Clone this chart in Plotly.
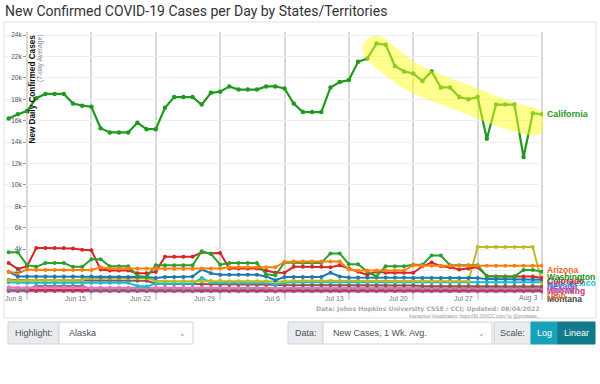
import plotly.graph_objects as go
import pandas as pd

# ---------------- data ----------------
dates = pd.date_range("2022-06-06", "2022-08-03", freq="D")

california = [16200, 16600, 16900, 18100, 18500, 18500, 18500,
              17600, 17400, 17300, 15300, 14900, 14900, 14900,
              15800, 15200, 15200, 17200, 18200, 18200, 18200,
              17500, 18600, 18700, 19200, 18900, 18900, 18900,
              19200, 19200, 19000, 17600, 16800, 16800, 16800,
              19100, 19600, 19800, 21500, 21800, 23200, 23100,
              21100, 20600, 20400, 19700, 20600, 19100, 19100,
              18200, 18000, 18200, 14300, 17500, 17500, 17500,
              12600, 16700, 16600]
arizona = [1900, 1750, 2100, 2050, 2050, 2050, 2050,
           2050, 2050, 2050, 2300, 2200, 2200, 2200,
           2200, 2200, 2200, 2150, 2150, 2150, 2150,
           2200, 2200, 2200, 2300, 2300, 2300, 2300,
           2300, 2300, 2800, 2850, 2850, 2850, 2850,
           2850, 2850, 2100, 2000, 2000, 2000, 2000,
           2000, 2000, 2500, 2450, 2450, 2450, 2450,
           2450, 2450, 2450, 2450, 2450, 2450, 2450,
           2450, 2450, 2450]
washington = [3700, 3700, 2500, 2350, 2700, 2700, 2700,
              2350, 2350, 3050, 3050, 2400, 2400, 2400,
              1500, 1400, 2500, 2500, 2500, 2500, 2500,
              3800, 3550, 2550, 2700, 2700, 2700, 2700,
              1650, 1550, 2750, 2700, 2700, 2700, 2700,
              3600, 3600, 2600, 2600, 1900, 1450, 2400,
              2400, 2400, 2550, 2550, 3400, 3400, 2500,
              2500, 2500, 2500, 1450, 1450, 1450, 1450,
              2050, 2050, 1900]
colorado = [2700, 2150, 2400, 4100, 4100, 4100, 4100,
            4050, 3950, 3900, 2100, 2000, 2000, 2000,
            1750, 1750, 1900, 3300, 3300, 3300, 3300,
            3700, 3600, 3650, 2200, 2200, 2200, 2200,
            2000, 1800, 1800, 2350, 2350, 2350, 2350,
            2300, 2500, 2200, 1900, 1600, 1900, 1800,
            1800, 1800, 1800, 2400, 2750, 2400, 2300,
            2100, 2200, 2300, 1500, 1450, 1450, 1450,
            1450, 1450, 1300]
nevada = [1900, 1450, 1450, 1450, 1450, 1450, 1450,
          1450, 1450, 1450, 1400, 1400, 1400, 1400,
          1400, 1400, 1300, 1400, 1400, 1400, 1450,
          2100, 1750, 1600, 1600, 1600, 1600, 1600,
          1450, 1100, 1400, 1400, 1400, 1400, 1400,
          1800, 1450, 1350, 1350, 1350, 1350, 1350,
          1350, 1350, 1300, 1300, 1300, 1300, 1300,
          1300, 1300, 1300, 1200, 1200, 1200, 1200,
          1200, 1200, 1150]
oregon = [1100, 1050, 1100, 1100, 1100, 1100, 1100,
          1100, 1150, 1300, 1300, 1300, 1300, 1300,
          1300, 1300, 1050, 1000, 1000, 1000, 1000,
          1000, 1050, 1050, 1000, 1000, 1000, 1000,
          1000, 950, 1000, 1050, 1050, 1050, 1050,
          1050, 1050, 1050, 1050, 1000, 1000, 1000,
          1000, 1000, 1000, 1000, 1000, 1000, 1000,
          1000, 1000, 4200, 4200, 4200, 4200, 4200,
          4200, 4200, 850]
new_mexico = [900, 850, 850, 850, 850, 850, 850,
              850, 850, 850, 850, 850, 850, 850,
              550, 500, 800, 800, 800, 800, 800,
              1300, 900, 850, 850, 850, 850, 850,
              850, 700, 850, 900, 900, 900, 900,
              950, 950, 900, 900, 900, 900, 900,
              900, 900, 900, 900, 900, 900, 900,
              900, 900, 900, 900, 900, 900, 900,
              950, 950, 900]
utah = [1150, 1100, 1100, 1100, 1100, 1100, 1100,
        1100, 1100, 1100, 1100, 1100, 1100, 1050,
        1050, 1050, 800, 750, 750, 750, 750,
        750, 750, 700, 700, 700, 700, 700,
        700, 650, 650, 650, 650, 650, 650,
        650, 600, 600, 600, 600, 600, 600,
        600, 600, 600, 550, 550, 550, 550,
        550, 550, 550, 550, 550, 550, 550,
        550, 550, 500]
idaho = [450, 400, 400, 400, 400, 400, 400,
         400, 400, 400, 400, 400, 400, 400,
         400, 400, 400, 400, 400, 400, 400,
         450, 400, 400, 400, 400, 400, 400,
         400, 350, 400, 400, 400, 400, 400,
         400, 400, 400, 400, 400, 400, 400,
         400, 400, 400, 400, 400, 400, 400,
         400, 400, 400, 400, 400, 400, 400,
         400, 400, 400]
montana = [200, 250, 250, 550, 550, 550, 550,
           550, 550, 250, 250, 250, 250, 250,
           250, 250, 250, 250, 250, 250, 250,
           300, 300, 300, 300, 300, 300, 300,
           300, 250, 300, 300, 300, 300, 300,
           300, 300, 300, 300, 300, 300, 300,
           300, 300, 300, 300, 300, 300, 300,
           300, 300, 300, 300, 300, 300, 300,
           300, 300, 300]
wyoming = [200, 180, 180, 180, 180, 180, 180,
           180, 180, 180, 180, 180, 180, 180,
           180, 180, 180, 180, 180, 180, 180,
           180, 180, 180, 180, 180, 180, 180,
           180, 150, 180, 180, 180, 180, 180,
           180, 180, 180, 180, 180, 180, 180,
           180, 180, 180, 180, 180, 180, 180,
           180, 180, 180, 180, 180, 180, 180,
           180, 180, 150]
hawaii = [120, 110, 110, 110, 110, 110, 110,
          110, 110, 110, 110, 110, 110, 110,
          110, 110, 110, 110, 110, 110, 110,
          110, 110, 110, 110, 110, 110, 110,
          110, 100, 110, 110, 110, 110, 110,
          110, 110, 110, 110, 110, 110, 110,
          110, 110, 110, 110, 110, 110, 110,
          110, 110, 110, 110, 110, 110, 110,
          110, 110, 100]
alaska = [60, 60, 60, 60, 60, 60, 60,
          60, 60, 60, 60, 60, 60, 60,
          60, 60, 60, 60, 60, 60, 60,
          60, 60, 60, 60, 60, 60, 60,
          60, 50, 60, 60, 60, 60, 60,
          60, 60, 60, 60, 60, 60, 60,
          60, 60, 60, 60, 60, 60, 60,
          60, 60, 60, 60, 60, 60, 60,
          60, 60, 50]

# highlighter stroke drawn over California's late-July trend
band_dates = ["2022-07-16", "2022-07-18", "2022-07-20", "2022-07-23",
              "2022-07-27", "2022-07-30", "2022-08-02"]
band_values = [22600, 21200, 20000, 18900, 17600, 16600, 15900]

tick_dates = ["2022-06-08", "2022-06-15", "2022-06-22", "2022-06-29", "2022-07-06",
              "2022-07-13", "2022-07-20", "2022-07-27", "2022-08-03"]
tick_labels = ["Jun 8", "Jun 15", "Jun 22", "Jun 29", "Jul 6",
               "Jul 13", "Jul 20", "Jul 27", "Aug 3"]
y_ticks = [2000, 4000, 6000, 8000, 10000, 12000, 14000, 16000, 18000, 20000, 22000, 24000]
y_tick_labels = ["2k", "4k", "6k", "8k", "10k", "12k", "14k", "16k", "18k", "20k", "22k", "24k"]

# name, values, line color, label color, label yshift (None -> no label)
series = [
    ("Alaska", alaska, "#a55fc9", "#a55fc9", None),
    ("Hawaii", hawaii, "#9467bd", "#9467bd", 1),
    ("Wyoming", wyoming, "#d62728", "#d0306a", -1),
    ("Montana", montana, "#7f7f7f", "#444444", -10),
    ("Idaho", idaho, "#e377c2", "#e377c2", -2),
    ("Utah", utah, "#8c564b", "#e0722a", -9),
    ("New Mexico", new_mexico, "#17becf", "#17becf", -1),
    ("Oregon", oregon, "#bcbd22", "#bcbd22", None),
    ("Nevada", nevada, "#1f77b4", "#6a5acd", -6),
    ("Colorado", colorado, "#d62728", "#d62728", -3),
    ("Washington", washington, "#2ca02c", "#1f8f1f", -5),
    ("Arizona", arizona, "#ff7f0e", "#f0601a", -4),
]

# ---------------- geometry helpers (pixel -> paper) ----------------
W, H = 600, 384
PL, PR, PT, PB = 5, 543, 32, 300


def fx(p):
    return (p - PL) / (PR - PL)


def fy(p):
    return (PB - p) / (PB - PT)


fig = go.Figure()

for name, vals, col, lcol, dy in series:
    fig.add_trace(go.Scatter(x=dates, y=vals, mode="lines+markers", name=name,
                             line=dict(color=col, width=2),
                             marker=dict(color=col, size=4),
                             hoverinfo="x+y+name"))

fig.add_trace(go.Scatter(x=dates, y=california, mode="lines+markers", name="California",
                         line=dict(color="#1f9a1f", width=2.2),
                         marker=dict(color="#1f9a1f", size=4.5)))

# highlighter
fig.add_trace(go.Scatter(x=band_dates, y=band_values, mode="lines+markers",
                         line=dict(color="#ffff20", width=28, shape="spline"),
                         marker=dict(color="#ffff20", size=28),
                         opacity=0.5, hoverinfo="skip", showlegend=False))

annotations = []
# end labels
annotations.append(dict(x=dates[-1], y=california[-1], xref="x", yref="y", text="<b>California</b>",
                        showarrow=False, xanchor="left", xshift=3,
                        font=dict(family="Liberation Sans, Arial", size=8.8, color="#1f9a1f")))
for name, vals, col, lcol, dy in series:
    if dy is None:
        continue
    annotations.append(dict(x=dates[-1], y=vals[-1], xref="x", yref="y", text="<b>%s</b>" % name,
                            showarrow=False, xanchor="left", xshift=3, yshift=dy,
                            font=dict(family="Liberation Sans, Arial", size=8.5, color=lcol)))

# x tick labels: right aligned just left of the week gridline, inside plot bottom
for d, t in zip(tick_dates, tick_labels):
    annotations.append(dict(x=d, y=fy(298), xref="x", yref="paper", text=t, showarrow=False,
                            xanchor="right", yanchor="middle", xshift=-3,
                            font=dict(family="Liberation Sans, Arial", size=7, color="#777")))

# y axis title
annotations.append(dict(x=fx(32), y=fy(33), xref="paper", yref="paper", text="<b>New Daily Confirmed Cases</b>",
                        textangle=-90, showarrow=False, xanchor="center", yanchor="top",
                        font=dict(family="Liberation Sans, Arial", size=8.2, color="#111")))
annotations.append(dict(x=fx(40.5), y=fy(33), xref="paper", yref="paper", text="(7-day Average)",
                        textangle=-90, showarrow=False, xanchor="center", yanchor="top",
                        font=dict(family="Liberation Sans, Arial", size=6.7, color="#888")))

# source
annotations.append(dict(x=fx(542), y=fy(309), xref="paper", yref="paper",
                        text="<b>Data: Johns Hopkins University CSSE / CCI; Updated: 08/04/2022</b>",
                        showarrow=False, xanchor="right", yanchor="middle",
                        font=dict(family="DejaVu Sans", size=6.2, color="#aaa")))
annotations.append(dict(x=fx(542), y=fy(316), xref="paper", yref="paper",
                        text="Interactive Visualization: https://91-DIVOC.com/ by @profwade_",
                        showarrow=False, xanchor="right", yanchor="middle",
                        font=dict(family="Liberation Sans, Arial", size=4.6, color="#999")))

shapes = []
# outer frame
shapes.append(dict(type="rect", xref="paper", yref="paper", x0=fx(4), x1=fx(596), y0=fy(22), y1=fy(318),
                   line=dict(color="#e2e2e2", width=1), fillcolor="rgba(0,0,0,0)", layer="below"))
# end-of-data line
shapes.append(dict(type="line", xref="x", yref="paper", x0=dates[-1], x1=dates[-1], y0=0, y1=1,
                   line=dict(color="#a8a8a8", width=1.5), layer="below"))

# controls bar
ctrl_y0, ctrl_y1 = 322, 344
boxes = [
    (8, 59, "#e9ecef", "#ced4da", "Highlight:", "#495057", "center"),
    (59, 193, "#ffffff", "#ced4da", "Alaska", "#495057", "left"),
    (288, 323, "#e9ecef", "#ced4da", "Data:", "#495057", "center"),
    (323, 492, "#ffffff", "#ced4da", "New Cases, 1 Wk. Avg.", "#495057", "left"),
    (494, 531, "#e9ecef", "#ced4da", "Scale:", "#495057", "center"),
    (531, 558, "#17a2b8", "#17a2b8", "Log", "#ffffff", "center"),
    (558, 595, "#117a8b", "#10707f", "Linear", "#ffffff", "center"),
]
for x0, x1, fill, edge, txt, tcol, align in boxes:
    shapes.append(dict(type="rect", xref="paper", yref="paper", x0=fx(x0), x1=fx(x1),
                       y0=fy(ctrl_y1), y1=fy(ctrl_y0), line=dict(color=edge, width=1), fillcolor=fill))
    if align == "center":
        annotations.append(dict(x=fx((x0 + x1) / 2), y=fy((ctrl_y0 + ctrl_y1) / 2), xref="paper", yref="paper",
                                text=txt, showarrow=False, xanchor="center", yanchor="middle",
                                font=dict(family="Liberation Sans, Arial", size=9, color=tcol)))
    else:
        annotations.append(dict(x=fx(x0 + 8), y=fy((ctrl_y0 + ctrl_y1) / 2), xref="paper", yref="paper",
                                text=txt, showarrow=False, xanchor="left", yanchor="middle",
                                font=dict(family="Liberation Sans, Arial", size=9, color=tcol)))
        annotations.append(dict(x=fx(x1 - 5), y=fy((ctrl_y0 + ctrl_y1) / 2), xref="paper", yref="paper",
                                text="⌄", showarrow=False, xanchor="right", yanchor="middle",
                                font=dict(family="DejaVu Sans", size=8, color="#999")))

fig.update_layout(
    width=W, height=H,
    margin=dict(l=PL, r=W - PR, t=PT, b=H - PB, pad=0),
    paper_bgcolor="white", plot_bgcolor="white",
    showlegend=False,
    title=dict(text="New Confirmed COVID-19 Cases per Day by States/Territories",
               x=5 / W, xanchor="left", xref="container", y=1 - 11 / H, yanchor="middle",
               font=dict(family="Roboto", size=14, color="#333")),
    xaxis=dict(type="date", range=["2022-06-05 14:30", "2022-08-03 02:40"],
               tickvals=tick_dates, showticklabels=False, ticks="",
               showgrid=True, gridcolor="#d8d8d8", gridwidth=1.5,
               zeroline=False, showline=False, fixedrange=True),
    yaxis=dict(range=[-750, 24280], tickvals=y_ticks, ticktext=y_tick_labels,
               anchor="free", position=fx(26), side="left",
               ticks="outside", ticklen=3, tickcolor="#999", tickwidth=1,
               tickfont=dict(family="Liberation Sans, Arial", size=6.5, color="#555"),
               showgrid=True, gridcolor="#eeeeee", gridwidth=1,
               zeroline=False, showline=False, fixedrange=True),
    annotations=annotations,
    shapes=shapes,
)

fig.write_html("out.html", config={"displayModeBar": False},
               post_script="document.body.style.margin='0';document.body.style.overflow='hidden';")
